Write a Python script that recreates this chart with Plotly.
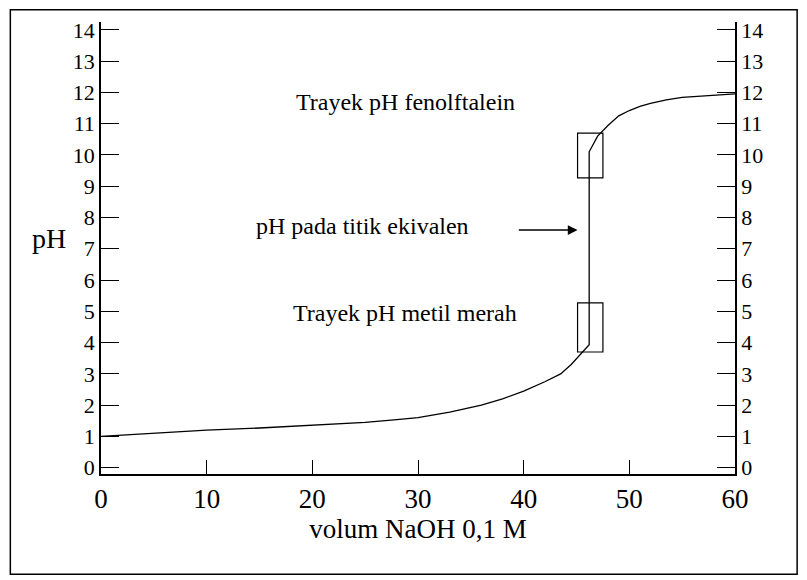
import plotly.graph_objects as go

vol = [0, 5, 10, 15, 20, 22, 25, 28, 30, 33, 36, 38, 40, 42, 43.5, 44.5, 45.3, 45.8, 46.2, 46.2, 47, 48, 49, 50, 51, 52, 53.5, 55, 57.5, 60]
ph = [1.0, 1.1, 1.2, 1.27, 1.35, 1.38, 1.45, 1.54, 1.6, 1.78, 2.0, 2.2, 2.45, 2.75, 3.0, 3.3, 3.6, 3.8, 3.93, 10.1, 10.6, 10.95, 11.25, 11.42, 11.55, 11.65, 11.76, 11.84, 11.9, 11.95]
yticks = list(range(0, 15))
xticks = [0, 10, 20, 30, 40, 50, 60]
labels = ["Trayek pH fenolftalein", "pH pada titik ekivalen", "Trayek pH metil merah"]
label_x = [28.8, 24.7, 28.8]
label_y = [11.7, 7.73, 4.95]
boxes = [(45.1, 47.5, 9.27, 10.7), (45.1, 47.5, 3.7, 5.27)]

F = "Liberation Serif"
fig = go.Figure()
fig.add_trace(go.Scatter(x=vol, y=ph, mode="lines", line=dict(color="black", width=1.3), showlegend=False))
fig.add_trace(go.Scatter(x=[0], y=[0], yaxis="y2", mode="markers", marker=dict(opacity=0), showlegend=False, hoverinfo="skip"))
for t, x, y in zip(labels, label_x, label_y):
    fig.add_annotation(x=x, y=y, text=t, showarrow=False, font=dict(family=F, size=24, color="black"))
fig.add_annotation(x=45.1, y=7.6, ax=39.4, ay=7.6, axref="x", ayref="y", text="", showarrow=True,
                   arrowhead=2, arrowsize=1.3, arrowwidth=1.5, arrowcolor="black")
for x0, x1, y0, y1 in boxes:
    fig.add_shape(type="rect", x0=x0, x1=x1, y0=y0, y1=y1, line=dict(color="black", width=1.2))
fig.add_shape(type="rect", xref="paper", yref="paper", x0=-0.143, x1=1.098, y0=-0.222, y1=1.027,
              line=dict(color="black", width=1.5))
fig.add_annotation(xref="paper", yref="paper", x=-0.112, y=0.52, text="pH", showarrow=False,
                   font=dict(family=F, size=28, color="black"))
axis_common = dict(range=[-0.2, 14.25], tickvals=yticks, ticks="inside", ticklen=18, tickcolor="black",
                   showline=True, linecolor="black", linewidth=1.5, showgrid=False, zeroline=False,
                   automargin=False, tickfont=dict(family=F, size=22, color="black"))
fig.update_layout(
    width=799, height=572, plot_bgcolor="white", paper_bgcolor="white",
    margin=dict(l=93, r=72, t=14, b=106),
    xaxis=dict(range=[0, 60], tickvals=xticks, ticks="inside", ticklen=14, tickcolor="black",
               showline=True, linecolor="black", linewidth=1.5, showgrid=False, zeroline=False,
               automargin=False, tickfont=dict(family=F, size=27, color="black"),
               title=dict(text="volum NaOH 0,1 M", font=dict(family=F, size=27, color="black"), standoff=6)),
    yaxis=axis_common,
    yaxis2=dict(**axis_common, overlaying="y", side="right"),
)
fig.write_html("out.html")
